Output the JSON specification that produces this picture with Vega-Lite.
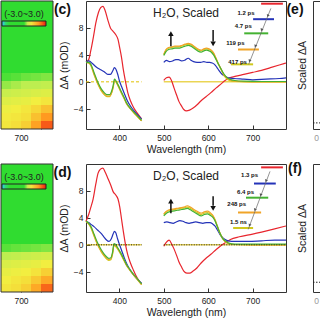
{
"$schema":"https://vega.github.io/schema/vega-lite/v6.json",
"padding":0,
"background":"white",
"config":{
 "font":"Liberation Sans",
 "text":{"font":"Liberation Sans"},
 "view":{"stroke":"#333","strokeWidth":1},
 "axis":{"grid":false,"domain":false,"tickColor":"#333","tickSize":-4,"tickWidth":1,"labelFontSize":8.5,"labelColor":"#222","labelPadding":7,"titleFontSize":10.5,"titleFontWeight":"normal","titleColor":"#222","titlePadding":4},
 "axisX":{"labelPadding":8,"titlePadding":3}
},
"datasets":{
 "hC":[
  {"x":650,"x2":780,"y":7,"y2":16,"c":0},
  {"x":650,"x2":675,"y":0,"y2":1,"c":1.0},{"x":675,"x2":700,"y":0,"y2":1,"c":1.1},{"x":700,"x2":725,"y":0,"y2":1,"c":1.3},{"x":725,"x2":750,"y":0,"y2":1,"c":1.9},{"x":750,"x2":780,"y":0,"y2":1,"c":2.5},
  {"x":650,"x2":675,"y":1,"y2":2,"c":0.95},{"x":675,"x2":700,"y":1,"y2":2,"c":1.0},{"x":700,"x2":725,"y":1,"y2":2,"c":1.1},{"x":725,"x2":750,"y":1,"y2":2,"c":1.5},{"x":750,"x2":780,"y":1,"y2":2,"c":2.0},
  {"x":650,"x2":675,"y":2,"y2":3,"c":0.85},{"x":675,"x2":700,"y":2,"y2":3,"c":0.9},{"x":700,"x2":725,"y":2,"y2":3,"c":1.0},{"x":725,"x2":750,"y":2,"y2":3,"c":1.2},{"x":750,"x2":780,"y":2,"y2":3,"c":1.5},
  {"x":650,"x2":675,"y":3,"y2":4,"c":0.7},{"x":675,"x2":700,"y":3,"y2":4,"c":0.75},{"x":700,"x2":725,"y":3,"y2":4,"c":0.8},{"x":725,"x2":750,"y":3,"y2":4,"c":0.9},{"x":750,"x2":780,"y":3,"y2":4,"c":1.0},
  {"x":650,"x2":675,"y":4,"y2":5,"c":0.5},{"x":675,"x2":700,"y":4,"y2":5,"c":0.55},{"x":700,"x2":725,"y":4,"y2":5,"c":0.6},{"x":725,"x2":750,"y":4,"y2":5,"c":0.65},{"x":750,"x2":780,"y":4,"y2":5,"c":0.7},
  {"x":650,"x2":675,"y":5,"y2":6,"c":0.3},{"x":675,"x2":700,"y":5,"y2":6,"c":0.35},{"x":700,"x2":725,"y":5,"y2":6,"c":0.4},{"x":725,"x2":750,"y":5,"y2":6,"c":0.4},{"x":750,"x2":780,"y":5,"y2":6,"c":0.45},
  {"x":650,"x2":675,"y":6,"y2":7,"c":0.12},{"x":675,"x2":700,"y":6,"y2":7,"c":0.15},{"x":700,"x2":725,"y":6,"y2":7,"c":0.2},{"x":725,"x2":750,"y":6,"y2":7,"c":0.22},{"x":750,"x2":780,"y":6,"y2":7,"c":0.25}
 ],
 "hD":[
  {"x":650,"x2":780,"y":6,"y2":16,"c":0},
  {"x":650,"x2":675,"y":0,"y2":1,"c":1.0},{"x":675,"x2":700,"y":0,"y2":1,"c":1.1},{"x":700,"x2":725,"y":0,"y2":1,"c":1.3},{"x":725,"x2":750,"y":0,"y2":1,"c":1.8},{"x":750,"x2":780,"y":0,"y2":1,"c":2.4},
  {"x":650,"x2":675,"y":1,"y2":2,"c":0.9},{"x":675,"x2":700,"y":1,"y2":2,"c":1.0},{"x":700,"x2":725,"y":1,"y2":2,"c":1.1},{"x":725,"x2":750,"y":1,"y2":2,"c":1.4},{"x":750,"x2":780,"y":1,"y2":2,"c":1.8},
  {"x":650,"x2":675,"y":2,"y2":3,"c":0.8},{"x":675,"x2":700,"y":2,"y2":3,"c":0.85},{"x":700,"x2":725,"y":2,"y2":3,"c":0.9},{"x":725,"x2":750,"y":2,"y2":3,"c":1.05},{"x":750,"x2":780,"y":2,"y2":3,"c":1.3},
  {"x":650,"x2":675,"y":3,"y2":4,"c":0.65},{"x":675,"x2":700,"y":3,"y2":4,"c":0.7},{"x":700,"x2":725,"y":3,"y2":4,"c":0.75},{"x":725,"x2":750,"y":3,"y2":4,"c":0.8},{"x":750,"x2":780,"y":3,"y2":4,"c":0.9},
  {"x":650,"x2":675,"y":4,"y2":5,"c":0.4},{"x":675,"x2":700,"y":4,"y2":5,"c":0.45},{"x":700,"x2":725,"y":4,"y2":5,"c":0.5},{"x":725,"x2":750,"y":4,"y2":5,"c":0.55},{"x":750,"x2":780,"y":4,"y2":5,"c":0.6},
  {"x":650,"x2":675,"y":5,"y2":6,"c":0.15},{"x":675,"x2":700,"y":5,"y2":6,"c":0.18},{"x":700,"x2":725,"y":5,"y2":6,"c":0.2},{"x":725,"x2":750,"y":5,"y2":6,"c":0.22},{"x":750,"x2":780,"y":5,"y2":6,"c":0.25}
 ],
 "lC":[{"t":"r","w":719,"w2":768,"v":11.6},{"t":"b","w":701,"w2":748,"v":9.3},{"t":"g","w":681,"w2":735,"v":7.2},{"t":"o","w":667,"w2":714,"v":4.8},{"t":"y","w":651,"w2":701,"v":2.6}],
 "lD":[{"t":"r","w":719,"w2":768,"v":11.5},{"t":"b","w":703,"w2":752,"v":9.1},{"t":"g","w":685,"w2":735,"v":7.0},{"t":"o","w":667,"w2":719,"v":4.8},{"t":"y","w":656,"w2":701,"v":2.5}],
 "tC":[{"lab":"1.2 ps","w":685,"v":10.2},{"lab":"4.7 ps","w":679,"v":8.3},{"lab":"119 ps","w":661,"v":5.7},{"lab":"417 ps","w":666,"v":3.0}],
 "tD":[{"lab":"1.3 ps","w":693,"v":10.3},{"lab":"6.4 ps","w":684,"v":7.9},{"lab":"248 ps","w":664,"v":6.1},{"lab":"1.5 ns","w":668,"v":3.4}],
 "sC":[
  {"t":"r","s":"u","w":325,"v":2.9},{"t":"r","s":"u","w":331,"v":3.3},{"t":"r","s":"u","w":336,"v":4.7},{"t":"r","s":"u","w":342,"v":6.8},{"t":"r","s":"u","w":347,"v":8.7},{"t":"r","s":"u","w":353,"v":10.3},{"t":"r","s":"u","w":358,"v":11.0},{"t":"r","s":"u","w":363,"v":11.2},{"t":"r","s":"u","w":368,"v":10.6},{"t":"r","s":"u","w":374,"v":9.2},{"t":"r","s":"u","w":380,"v":8.0},{"t":"r","s":"u","w":386,"v":7.5},{"t":"r","s":"u","w":392,"v":7.0},{"t":"r","s":"u","w":397,"v":6.3},{"t":"r","s":"u","w":401,"v":5.0},{"t":"r","s":"u","w":405,"v":3.6},{"t":"r","s":"u","w":409,"v":1.8},{"t":"r","s":"u","w":414,"v":0.0},{"t":"r","s":"u","w":419,"v":-1.6},{"t":"r","s":"u","w":425,"v":-2.8},{"t":"r","s":"u","w":432,"v":-3.8},{"t":"r","s":"u","w":440,"v":-4.6},{"t":"r","s":"u","w":450,"v":-5.5},
  {"t":"r","s":"v","w":500,"v":0.2},{"t":"r","s":"v","w":506,"v":0.6},{"t":"r","s":"v","w":512,"v":0.7},{"t":"r","s":"v","w":518,"v":0.1},{"t":"r","s":"v","w":523,"v":-0.9},{"t":"r","s":"v","w":529,"v":-2.0},{"t":"r","s":"v","w":534,"v":-2.9},{"t":"r","s":"v","w":540,"v":-3.6},{"t":"r","s":"v","w":545,"v":-4.1},{"t":"r","s":"v","w":551,"v":-4.3},{"t":"r","s":"v","w":558,"v":-4.2},{"t":"r","s":"v","w":566,"v":-3.9},{"t":"r","s":"v","w":575,"v":-3.4},{"t":"r","s":"v","w":584,"v":-2.8},{"t":"r","s":"v","w":595,"v":-2.2},{"t":"r","s":"v","w":606,"v":-1.6},{"t":"r","s":"v","w":618,"v":-0.9},{"t":"r","s":"v","w":629,"v":-0.3},{"t":"r","s":"v","w":638,"v":0.2},{"t":"r","s":"v","w":648,"v":0.6},{"t":"r","s":"v","w":660,"v":0.8},{"t":"r","s":"v","w":680,"v":1.1},{"t":"r","s":"v","w":700,"v":1.4},{"t":"r","s":"v","w":720,"v":1.7},{"t":"r","s":"v","w":740,"v":2.1},{"t":"r","s":"v","w":760,"v":2.5},{"t":"r","s":"v","w":775,"v":2.8},
  {"t":"b","s":"u","w":325,"v":2.9},{"t":"b","s":"u","w":331,"v":3.1},{"t":"b","s":"u","w":338,"v":2.8},{"t":"b","s":"u","w":348,"v":2.2},{"t":"b","s":"u","w":358,"v":1.8},{"t":"b","s":"u","w":366,"v":1.5},{"t":"b","s":"u","w":374,"v":1.1},{"t":"b","s":"u","w":380,"v":1.1},{"t":"b","s":"u","w":385,"v":1.6},{"t":"b","s":"u","w":389,"v":2.1},{"t":"b","s":"u","w":392,"v":1.9},{"t":"b","s":"u","w":396,"v":1.2},{"t":"b","s":"u","w":400,"v":0.2},{"t":"b","s":"u","w":405,"v":-0.7},{"t":"b","s":"u","w":411,"v":-1.7},{"t":"b","s":"u","w":418,"v":-2.8},{"t":"b","s":"u","w":426,"v":-3.7},{"t":"b","s":"u","w":434,"v":-4.4},{"t":"b","s":"u","w":442,"v":-5.0},{"t":"b","s":"u","w":450,"v":-5.5},
  {"t":"b","s":"v","w":500,"v":2.9},{"t":"b","s":"v","w":506,"v":3.2},{"t":"b","s":"v","w":513,"v":3.0},{"t":"b","s":"v","w":520,"v":3.1},{"t":"b","s":"v","w":527,"v":3.3},{"t":"b","s":"v","w":533,"v":3.3},{"t":"b","s":"v","w":540,"v":3.1},{"t":"b","s":"v","w":547,"v":3.2},{"t":"b","s":"v","w":555,"v":3.5},{"t":"b","s":"v","w":561,"v":3.2},{"t":"b","s":"v","w":567,"v":3.0},{"t":"b","s":"v","w":575,"v":2.9},{"t":"b","s":"v","w":583,"v":2.9},{"t":"b","s":"v","w":590,"v":3.0},{"t":"b","s":"v","w":597,"v":2.9},{"t":"b","s":"v","w":603,"v":2.9},{"t":"b","s":"v","w":609,"v":2.8},{"t":"b","s":"v","w":614,"v":2.6},{"t":"b","s":"v","w":619,"v":2.2},{"t":"b","s":"v","w":624,"v":1.7},{"t":"b","s":"v","w":630,"v":1.2},{"t":"b","s":"v","w":636,"v":0.9},{"t":"b","s":"v","w":645,"v":0.6},{"t":"b","s":"v","w":658,"v":0.5},{"t":"b","s":"v","w":680,"v":0.4},{"t":"b","s":"v","w":700,"v":0.3},{"t":"b","s":"v","w":730,"v":0.4},{"t":"b","s":"v","w":760,"v":0.5},{"t":"b","s":"v","w":775,"v":0.6},
  {"t":"y","s":"u","w":325,"v":2.9},{"t":"y","s":"u","w":331,"v":2.8},{"t":"y","s":"u","w":336,"v":2.4},{"t":"y","s":"u","w":343,"v":1.1},{"t":"y","s":"u","w":352,"v":-0.4},{"t":"y","s":"u","w":359,"v":-1.3},{"t":"y","s":"u","w":366,"v":-1.9},{"t":"y","s":"u","w":372,"v":-2.2},{"t":"y","s":"u","w":378,"v":-2.2},{"t":"y","s":"u","w":383,"v":-1.6},{"t":"y","s":"u","w":386,"v":-0.9},{"t":"y","s":"u","w":389,"v":0.1},{"t":"y","s":"u","w":392,"v":0.0},{"t":"y","s":"u","w":397,"v":-0.6},{"t":"y","s":"u","w":404,"v":-1.6},{"t":"y","s":"u","w":410,"v":-2.4},{"t":"y","s":"u","w":416,"v":-3.2},{"t":"y","s":"u","w":426,"v":-4.1},{"t":"y","s":"u","w":437,"v":-4.9},{"t":"y","s":"u","w":450,"v":-5.8},
  {"t":"y","s":"v","w":500,"v":4.0},{"t":"y","s":"v","w":505,"v":4.7},{"t":"y","s":"v","w":511,"v":5.0},{"t":"y","s":"v","w":518,"v":5.1},{"t":"y","s":"v","w":525,"v":5.2},{"t":"y","s":"v","w":533,"v":5.2},{"t":"y","s":"v","w":540,"v":5.3},{"t":"y","s":"v","w":548,"v":5.5},{"t":"y","s":"v","w":555,"v":5.6},{"t":"y","s":"v","w":561,"v":5.5},{"t":"y","s":"v","w":568,"v":5.2},{"t":"y","s":"v","w":576,"v":4.8},{"t":"y","s":"v","w":584,"v":4.6},{"t":"y","s":"v","w":590,"v":4.8},{"t":"y","s":"v","w":596,"v":4.9},{"t":"y","s":"v","w":602,"v":4.8},{"t":"y","s":"v","w":607,"v":4.6},{"t":"y","s":"v","w":612,"v":4.2},{"t":"y","s":"v","w":617,"v":3.5},{"t":"y","s":"v","w":623,"v":2.6},{"t":"y","s":"v","w":629,"v":1.8},{"t":"y","s":"v","w":635,"v":1.0},{"t":"y","s":"v","w":641,"v":0.5},{"t":"y","s":"v","w":648,"v":0.2},{"t":"y","s":"v","w":660,"v":0.05},{"t":"y","s":"v","w":700,"v":0.0},{"t":"y","s":"v","w":775,"v":0.0},
  {"t":"o","s":"u","w":325,"v":2.9},{"t":"o","s":"u","w":331,"v":2.8},{"t":"o","s":"u","w":336,"v":2.5},{"t":"o","s":"u","w":343,"v":1.2},{"t":"o","s":"u","w":352,"v":-0.3},{"t":"o","s":"u","w":359,"v":-1.2},{"t":"o","s":"u","w":366,"v":-1.8},{"t":"o","s":"u","w":372,"v":-2.1},{"t":"o","s":"u","w":378,"v":-2.1},{"t":"o","s":"u","w":383,"v":-1.5},{"t":"o","s":"u","w":386,"v":-0.8},{"t":"o","s":"u","w":389,"v":0.2},{"t":"o","s":"u","w":392,"v":0.1},{"t":"o","s":"u","w":397,"v":-0.5},{"t":"o","s":"u","w":404,"v":-1.5},{"t":"o","s":"u","w":410,"v":-2.3},{"t":"o","s":"u","w":416,"v":-3.2},{"t":"o","s":"u","w":426,"v":-4.1},{"t":"o","s":"u","w":437,"v":-4.9},{"t":"o","s":"u","w":450,"v":-5.8},
  {"t":"o","s":"v","w":500,"v":4.1},{"t":"o","s":"v","w":505,"v":4.8},{"t":"o","s":"v","w":511,"v":5.1},{"t":"o","s":"v","w":518,"v":5.2},{"t":"o","s":"v","w":525,"v":5.3},{"t":"o","s":"v","w":533,"v":5.3},{"t":"o","s":"v","w":540,"v":5.4},{"t":"o","s":"v","w":548,"v":5.6},{"t":"o","s":"v","w":555,"v":5.7},{"t":"o","s":"v","w":561,"v":5.6},{"t":"o","s":"v","w":568,"v":5.3},{"t":"o","s":"v","w":576,"v":4.9},{"t":"o","s":"v","w":584,"v":4.7},{"t":"o","s":"v","w":590,"v":4.9},{"t":"o","s":"v","w":596,"v":5.0},{"t":"o","s":"v","w":602,"v":4.9},{"t":"o","s":"v","w":607,"v":4.7},{"t":"o","s":"v","w":612,"v":4.3},{"t":"o","s":"v","w":617,"v":3.6},{"t":"o","s":"v","w":623,"v":2.7},{"t":"o","s":"v","w":629,"v":1.9},{"t":"o","s":"v","w":635,"v":1.1},{"t":"o","s":"v","w":641,"v":0.6},{"t":"o","s":"v","w":648,"v":0.3},{"t":"o","s":"v","w":660,"v":0.1},{"t":"o","s":"v","w":700,"v":0.0},{"t":"o","s":"v","w":775,"v":0.0},
  {"t":"g","s":"u","w":325,"v":2.9},{"t":"g","s":"u","w":331,"v":2.9},{"t":"g","s":"u","w":336,"v":2.6},{"t":"g","s":"u","w":343,"v":1.4},{"t":"g","s":"u","w":352,"v":-0.1},{"t":"g","s":"u","w":359,"v":-1.0},{"t":"g","s":"u","w":366,"v":-1.6},{"t":"g","s":"u","w":372,"v":-1.9},{"t":"g","s":"u","w":378,"v":-1.9},{"t":"g","s":"u","w":383,"v":-1.3},{"t":"g","s":"u","w":386,"v":-0.6},{"t":"g","s":"u","w":389,"v":0.4},{"t":"g","s":"u","w":392,"v":0.2},{"t":"g","s":"u","w":397,"v":-0.4},{"t":"g","s":"u","w":404,"v":-1.4},{"t":"g","s":"u","w":410,"v":-2.2},{"t":"g","s":"u","w":416,"v":-3.1},{"t":"g","s":"u","w":426,"v":-4.0},{"t":"g","s":"u","w":437,"v":-4.8},{"t":"g","s":"u","w":450,"v":-5.7},
  {"t":"g","s":"v","w":500,"v":3.9},{"t":"g","s":"v","w":505,"v":4.5},{"t":"g","s":"v","w":511,"v":4.8},{"t":"g","s":"v","w":518,"v":4.9},{"t":"g","s":"v","w":525,"v":5.0},{"t":"g","s":"v","w":533,"v":5.0},{"t":"g","s":"v","w":540,"v":5.1},{"t":"g","s":"v","w":548,"v":5.3},{"t":"g","s":"v","w":555,"v":5.4},{"t":"g","s":"v","w":561,"v":5.3},{"t":"g","s":"v","w":568,"v":5.0},{"t":"g","s":"v","w":576,"v":4.6},{"t":"g","s":"v","w":584,"v":4.4},{"t":"g","s":"v","w":590,"v":4.6},{"t":"g","s":"v","w":596,"v":4.7},{"t":"g","s":"v","w":602,"v":4.6},{"t":"g","s":"v","w":607,"v":4.4},{"t":"g","s":"v","w":612,"v":4.0},{"t":"g","s":"v","w":617,"v":3.4},{"t":"g","s":"v","w":623,"v":2.6},{"t":"g","s":"v","w":629,"v":1.9},{"t":"g","s":"v","w":635,"v":1.2},{"t":"g","s":"v","w":641,"v":0.7},{"t":"g","s":"v","w":648,"v":0.4},{"t":"g","s":"v","w":660,"v":0.2},{"t":"g","s":"v","w":680,"v":0.1},{"t":"g","s":"v","w":720,"v":0.05},{"t":"g","s":"v","w":775,"v":0.05}
 ],
 "sD":[
  {"t":"r","s":"u","w":325,"v":3.5},{"t":"r","s":"u","w":331,"v":4.5},{"t":"r","s":"u","w":336,"v":5.6},{"t":"r","s":"u","w":341,"v":6.8},{"t":"r","s":"u","w":347,"v":9.0},{"t":"r","s":"u","w":352,"v":10.6},{"t":"r","s":"u","w":357,"v":11.2},{"t":"r","s":"u","w":363,"v":11.4},{"t":"r","s":"u","w":368,"v":10.8},{"t":"r","s":"u","w":374,"v":9.9},{"t":"r","s":"u","w":381,"v":8.8},{"t":"r","s":"u","w":386,"v":7.9},{"t":"r","s":"u","w":392,"v":7.4},{"t":"r","s":"u","w":397,"v":6.8},{"t":"r","s":"u","w":401,"v":5.6},{"t":"r","s":"u","w":405,"v":3.8},{"t":"r","s":"u","w":409,"v":2.0},{"t":"r","s":"u","w":414,"v":0.0},{"t":"r","s":"u","w":419,"v":-1.5},{"t":"r","s":"u","w":425,"v":-2.7},{"t":"r","s":"u","w":432,"v":-3.8},{"t":"r","s":"u","w":440,"v":-4.9},{"t":"r","s":"u","w":450,"v":-5.8},
  {"t":"r","s":"v","w":500,"v":-0.2},{"t":"r","s":"v","w":506,"v":0.4},{"t":"r","s":"v","w":512,"v":0.7},{"t":"r","s":"v","w":518,"v":0.1},{"t":"r","s":"v","w":523,"v":-0.6},{"t":"r","s":"v","w":529,"v":-1.6},{"t":"r","s":"v","w":534,"v":-2.5},{"t":"r","s":"v","w":540,"v":-3.3},{"t":"r","s":"v","w":545,"v":-3.9},{"t":"r","s":"v","w":552,"v":-4.2},{"t":"r","s":"v","w":558,"v":-4.2},{"t":"r","s":"v","w":566,"v":-3.9},{"t":"r","s":"v","w":575,"v":-3.4},{"t":"r","s":"v","w":584,"v":-2.7},{"t":"r","s":"v","w":595,"v":-2.0},{"t":"r","s":"v","w":606,"v":-1.4},{"t":"r","s":"v","w":618,"v":-0.7},{"t":"r","s":"v","w":629,"v":-0.1},{"t":"r","s":"v","w":640,"v":0.4},{"t":"r","s":"v","w":650,"v":0.8},{"t":"r","s":"v","w":670,"v":1.2},{"t":"r","s":"v","w":700,"v":1.6},{"t":"r","s":"v","w":720,"v":1.9},{"t":"r","s":"v","w":745,"v":2.3},{"t":"r","s":"v","w":775,"v":2.8},
  {"t":"b","s":"u","w":325,"v":3.5},{"t":"b","s":"u","w":331,"v":3.3},{"t":"b","s":"u","w":337,"v":3.0},{"t":"b","s":"u","w":343,"v":2.7},{"t":"b","s":"u","w":351,"v":2.2},{"t":"b","s":"u","w":359,"v":1.7},{"t":"b","s":"u","w":365,"v":1.2},{"t":"b","s":"u","w":370,"v":0.8},{"t":"b","s":"u","w":377,"v":0.5},{"t":"b","s":"u","w":382,"v":0.9},{"t":"b","s":"u","w":386,"v":1.6},{"t":"b","s":"u","w":389,"v":2.0},{"t":"b","s":"u","w":392,"v":1.8},{"t":"b","s":"u","w":396,"v":0.9},{"t":"b","s":"u","w":400,"v":0.1},{"t":"b","s":"u","w":405,"v":-0.8},{"t":"b","s":"u","w":411,"v":-1.9},{"t":"b","s":"u","w":418,"v":-3.0},{"t":"b","s":"u","w":426,"v":-3.9},{"t":"b","s":"u","w":434,"v":-4.6},{"t":"b","s":"u","w":442,"v":-5.2},{"t":"b","s":"u","w":450,"v":-5.7},
  {"t":"b","s":"v","w":500,"v":3.3},{"t":"b","s":"v","w":507,"v":3.4},{"t":"b","s":"v","w":514,"v":3.3},{"t":"b","s":"v","w":521,"v":3.2},{"t":"b","s":"v","w":528,"v":3.4},{"t":"b","s":"v","w":536,"v":3.6},{"t":"b","s":"v","w":543,"v":3.5},{"t":"b","s":"v","w":550,"v":3.3},{"t":"b","s":"v","w":557,"v":3.2},{"t":"b","s":"v","w":564,"v":3.3},{"t":"b","s":"v","w":572,"v":3.4},{"t":"b","s":"v","w":580,"v":3.3},{"t":"b","s":"v","w":588,"v":3.2},{"t":"b","s":"v","w":596,"v":3.3},{"t":"b","s":"v","w":604,"v":3.3},{"t":"b","s":"v","w":610,"v":3.1},{"t":"b","s":"v","w":615,"v":2.8},{"t":"b","s":"v","w":620,"v":2.3},{"t":"b","s":"v","w":626,"v":1.6},{"t":"b","s":"v","w":632,"v":1.1},{"t":"b","s":"v","w":638,"v":0.8},{"t":"b","s":"v","w":645,"v":0.6},{"t":"b","s":"v","w":660,"v":0.5},{"t":"b","s":"v","w":690,"v":0.5},{"t":"b","s":"v","w":720,"v":0.6},{"t":"b","s":"v","w":750,"v":0.7},{"t":"b","s":"v","w":775,"v":0.7},
  {"t":"y","s":"u","w":325,"v":3.5},{"t":"y","s":"u","w":331,"v":3.1},{"t":"y","s":"u","w":337,"v":2.4},{"t":"y","s":"u","w":343,"v":1.3},{"t":"y","s":"u","w":351,"v":0.0},{"t":"y","s":"u","w":359,"v":-1.0},{"t":"y","s":"u","w":365,"v":-1.6},{"t":"y","s":"u","w":370,"v":-2.0},{"t":"y","s":"u","w":376,"v":-2.3},{"t":"y","s":"u","w":381,"v":-2.2},{"t":"y","s":"u","w":385,"v":-1.3},{"t":"y","s":"u","w":388,"v":-0.1},{"t":"y","s":"u","w":391,"v":-0.2},{"t":"y","s":"u","w":397,"v":-0.7},{"t":"y","s":"u","w":404,"v":-1.5},{"t":"y","s":"u","w":410,"v":-2.3},{"t":"y","s":"u","w":415,"v":-2.9},{"t":"y","s":"u","w":423,"v":-3.7},{"t":"y","s":"u","w":431,"v":-4.4},{"t":"y","s":"u","w":440,"v":-5.1},{"t":"y","s":"u","w":450,"v":-5.9},
  {"t":"y","s":"v","w":500,"v":4.5},{"t":"y","s":"v","w":506,"v":4.9},{"t":"y","s":"v","w":512,"v":5.1},{"t":"y","s":"v","w":520,"v":5.2},{"t":"y","s":"v","w":528,"v":5.3},{"t":"y","s":"v","w":536,"v":5.4},{"t":"y","s":"v","w":545,"v":5.5},{"t":"y","s":"v","w":553,"v":5.6},{"t":"y","s":"v","w":560,"v":5.4},{"t":"y","s":"v","w":567,"v":5.1},{"t":"y","s":"v","w":575,"v":4.8},{"t":"y","s":"v","w":584,"v":4.5},{"t":"y","s":"v","w":591,"v":4.7},{"t":"y","s":"v","w":598,"v":4.8},{"t":"y","s":"v","w":604,"v":4.6},{"t":"y","s":"v","w":610,"v":4.3},{"t":"y","s":"v","w":615,"v":3.7},{"t":"y","s":"v","w":620,"v":2.8},{"t":"y","s":"v","w":626,"v":1.8},{"t":"y","s":"v","w":632,"v":1.0},{"t":"y","s":"v","w":638,"v":0.5},{"t":"y","s":"v","w":645,"v":0.2},{"t":"y","s":"v","w":660,"v":0.05},{"t":"y","s":"v","w":700,"v":0.0},{"t":"y","s":"v","w":775,"v":0.0},
  {"t":"o","s":"u","w":325,"v":3.5},{"t":"o","s":"u","w":331,"v":3.1},{"t":"o","s":"u","w":337,"v":2.5},{"t":"o","s":"u","w":343,"v":1.4},{"t":"o","s":"u","w":351,"v":0.1},{"t":"o","s":"u","w":359,"v":-0.9},{"t":"o","s":"u","w":365,"v":-1.5},{"t":"o","s":"u","w":370,"v":-1.9},{"t":"o","s":"u","w":376,"v":-2.2},{"t":"o","s":"u","w":381,"v":-2.1},{"t":"o","s":"u","w":385,"v":-1.2},{"t":"o","s":"u","w":388,"v":0.0},{"t":"o","s":"u","w":391,"v":-0.1},{"t":"o","s":"u","w":397,"v":-0.6},{"t":"o","s":"u","w":404,"v":-1.4},{"t":"o","s":"u","w":410,"v":-2.2},{"t":"o","s":"u","w":415,"v":-2.9},{"t":"o","s":"u","w":423,"v":-3.7},{"t":"o","s":"u","w":431,"v":-4.4},{"t":"o","s":"u","w":440,"v":-5.1},{"t":"o","s":"u","w":450,"v":-5.9},
  {"t":"o","s":"v","w":500,"v":4.6},{"t":"o","s":"v","w":506,"v":5.0},{"t":"o","s":"v","w":512,"v":5.2},{"t":"o","s":"v","w":520,"v":5.3},{"t":"o","s":"v","w":528,"v":5.4},{"t":"o","s":"v","w":536,"v":5.5},{"t":"o","s":"v","w":545,"v":5.6},{"t":"o","s":"v","w":553,"v":5.8},{"t":"o","s":"v","w":560,"v":5.6},{"t":"o","s":"v","w":567,"v":5.3},{"t":"o","s":"v","w":575,"v":5.0},{"t":"o","s":"v","w":584,"v":4.7},{"t":"o","s":"v","w":591,"v":4.9},{"t":"o","s":"v","w":598,"v":5.0},{"t":"o","s":"v","w":604,"v":4.8},{"t":"o","s":"v","w":610,"v":4.4},{"t":"o","s":"v","w":615,"v":3.8},{"t":"o","s":"v","w":620,"v":2.9},{"t":"o","s":"v","w":626,"v":1.8},{"t":"o","s":"v","w":632,"v":1.0},{"t":"o","s":"v","w":638,"v":0.5},{"t":"o","s":"v","w":645,"v":0.2},{"t":"o","s":"v","w":660,"v":0.05},{"t":"o","s":"v","w":700,"v":0.0},{"t":"o","s":"v","w":775,"v":0.0},
  {"t":"g","s":"u","w":325,"v":3.5},{"t":"g","s":"u","w":331,"v":3.2},{"t":"g","s":"u","w":337,"v":2.6},{"t":"g","s":"u","w":343,"v":1.6},{"t":"g","s":"u","w":351,"v":0.3},{"t":"g","s":"u","w":359,"v":-0.7},{"t":"g","s":"u","w":365,"v":-1.3},{"t":"g","s":"u","w":370,"v":-1.7},{"t":"g","s":"u","w":376,"v":-2.0},{"t":"g","s":"u","w":381,"v":-1.9},{"t":"g","s":"u","w":385,"v":-1.0},{"t":"g","s":"u","w":388,"v":0.2},{"t":"g","s":"u","w":391,"v":0.1},{"t":"g","s":"u","w":397,"v":-0.5},{"t":"g","s":"u","w":404,"v":-1.3},{"t":"g","s":"u","w":410,"v":-2.1},{"t":"g","s":"u","w":415,"v":-2.8},{"t":"g","s":"u","w":423,"v":-3.6},{"t":"g","s":"u","w":431,"v":-4.3},{"t":"g","s":"u","w":440,"v":-5.0},{"t":"g","s":"u","w":450,"v":-5.8},
  {"t":"g","s":"v","w":500,"v":4.3},{"t":"g","s":"v","w":506,"v":4.7},{"t":"g","s":"v","w":512,"v":4.9},{"t":"g","s":"v","w":520,"v":5.0},{"t":"g","s":"v","w":528,"v":5.1},{"t":"g","s":"v","w":536,"v":5.2},{"t":"g","s":"v","w":545,"v":5.3},{"t":"g","s":"v","w":553,"v":5.4},{"t":"g","s":"v","w":560,"v":5.2},{"t":"g","s":"v","w":567,"v":4.9},{"t":"g","s":"v","w":575,"v":4.6},{"t":"g","s":"v","w":584,"v":4.3},{"t":"g","s":"v","w":591,"v":4.5},{"t":"g","s":"v","w":598,"v":4.6},{"t":"g","s":"v","w":604,"v":4.4},{"t":"g","s":"v","w":610,"v":4.1},{"t":"g","s":"v","w":615,"v":3.6},{"t":"g","s":"v","w":620,"v":2.8},{"t":"g","s":"v","w":626,"v":1.8},{"t":"g","s":"v","w":632,"v":1.0},{"t":"g","s":"v","w":638,"v":0.6},{"t":"g","s":"v","w":645,"v":0.3},{"t":"g","s":"v","w":660,"v":0.1},{"t":"g","s":"v","w":700,"v":0.1},{"t":"g","s":"v","w":775,"v":0.1}
 ]
},
"columns":3,
"bounds":"flush",
"spacing":{"row":35,"column":27},
"resolve":{"scale":{"color":"independent"},"legend":{"color":"independent"}},
"concat":[
 {"width":58,"height":128,"view":{"stroke":null},
  "encoding":{
   "x":{"field":"x","type":"quantitative","scale":{"domain":[650,795],"nice":false,"zero":false},"axis":{"values":[700,750],"title":null,"labelExpr":"datum.value == 700 ? '700' : ''"}},
   "x2":{"field":"x2"},
   "y":{"field":"y","type":"quantitative","scale":{"domain":[0,16],"nice":false,"zero":false},"axis":null},
   "y2":{"field":"y2"}
  },
  "layer":[
   {"data":{"name":"hC"},"mark":{"type":"rect"},
    "encoding":{"color":{"field":"c","type":"quantitative","scale":{"domain":[-3,-2.3,0.05,0.4,0.9,2.0,3],"range":["#30d0ff","#30dc30","#30dc30","#bdee50","#f2ee40","#ff9a20","#ee1a10"],"interpolate":"rgb"},
      "legend":{"title":"(-3.0~3.0)","orient":"none","legendX":1,"legendY":9,"direction":"horizontal","gradientLength":44,"gradientThickness":5,"labelExpr":"''","labelFontSize":1,"titleFontSize":9,"titleFontWeight":"normal","titleColor":"#222","titleAnchor":"middle","titlePadding":2,"gradientStrokeColor":"#222","gradientStrokeWidth":1,"padding":0}}}},
   {"data":{"values":[{"x":650,"x2":780,"y":0,"y2":16}]},"mark":{"type":"rect","fill":null,"filled":false,"stroke":"#333","strokeWidth":1}}
  ]},
 {"width":200,"height":128,
  "encoding":{
   "x":{"field":"w","type":"quantitative","scale":{"domain":[325,775],"nice":false,"zero":false},"axis":{"values":[400,500,600,700],"title":"Wavelength (nm)"}},
   "y":{"field":"v","type":"quantitative","scale":{"domain":[-7,12],"nice":false,"zero":false},"axis":{"values":[-4,0,4,8],"title":"ΔA (mOD)"}}
  },
  "layer":[
   {"data":{"values":[{"w":325,"w2":450,"v":0}]},"mark":{"type":"rule","color":"#e0c000","strokeWidth":1,"strokeDash":[3,2]},"encoding":{"x2":{"field":"w2"}}},
   {"data":{"values":[{"w":500,"w2":775,"v":0}]},"mark":{"type":"rule","color":"#e0c000","strokeWidth":1},"encoding":{"x2":{"field":"w2"}}},
   {"data":{"name":"sC"},"mark":{"type":"line","interpolate":"monotone","strokeWidth":1.2},
    "encoding":{"color":{"field":"t","type":"nominal","scale":{"domain":["r","b","g","o","y"],"range":["#e8262e","#2433b8","#44b232","#f0a428","#cfc81e"]},"legend":null},"detail":{"field":"s"}}},
   {"data":{"name":"lC"},"mark":{"type":"rule","strokeWidth":2},
    "encoding":{"x2":{"field":"w2"},"color":{"field":"t","type":"nominal","scale":{"domain":["r","b","g","o","y"],"range":["#e8262e","#2433b8","#44b232","#f0a428","#cfc81e"]},"legend":null}}},
   {"data":{"name":"tC"},"mark":{"type":"text","font":"Liberation Sans","fontSize":6,"fontWeight":"bold","color":"#111"},"encoding":{"text":{"field":"lab"}}},
   {"data":{"values":[{"w":741,"v":10.9,"w2":691,"v2":2.6}]},"mark":{"type":"rule","color":"#666","strokeWidth":0.7},"encoding":{"x2":{"field":"w2"},"y2":{"field":"v2"}}},
   {"data":{"values":[{"w":734,"v":9.8},{"w":720,"v":7.7},{"w":706,"v":5.3},{"w":693,"v":3.1}]},"mark":{"type":"point","shape":"triangle-down","filled":true,"size":10,"color":"#555","angle":22,"opacity":1},"encoding":{}},
   {"data":{"values":[{"w":516,"v":5.3,"v2":6.9},{"w":611,"v":6.0,"v2":7.7}]},"mark":{"type":"rule","color":"#111","strokeWidth":1.5},"encoding":{"y2":{"field":"v2"}}},
   {"data":{"values":[{"w":516,"v":7.15}]},"mark":{"type":"point","shape":"triangle-up","filled":true,"size":30,"color":"#111","opacity":1},"encoding":{}},
   {"data":{"values":[{"w":611,"v":5.65}]},"mark":{"type":"point","shape":"triangle-down","filled":true,"size":30,"color":"#111","opacity":1},"encoding":{}},
   {"data":{"values":[{"w":550,"v":10.2,"lab":"H₂O, Scaled"}]},"mark":{"type":"text","font":"Liberation Sans","fontSize":12,"color":"#222"},"encoding":{"text":{"field":"lab"}}},
   {"data":{"values":[{"w":272,"v":10.7,"lab":"(c)"}]},"mark":{"type":"text","font":"Liberation Sans","fontSize":14,"fontWeight":"bold","color":"#111"},"encoding":{"text":{"field":"lab"}}}
  ]},
 {"width":8,"height":128,
  "encoding":{
   "x":{"field":"w","type":"quantitative","scale":{"domain":[-3,5],"nice":false,"zero":false},"axis":{"values":[0],"title":null,"ticks":false,"labelColor":"#999","labelPadding":4}},
   "y":{"field":"v","type":"quantitative","scale":{"domain":[-0.05,1],"nice":false,"zero":false},"axis":{"title":"Scaled ΔA","labels":false,"ticks":false,"titlePadding":6}}
  },
  "layer":[
   {"data":{"values":[{"w":-3,"w2":5,"v":0}]},"mark":{"type":"rule","color":"#222","strokeDash":[1.5,1.5]},"encoding":{"x2":{"field":"w2"}}},
   {"data":{"values":[{"w":-21,"v":0.93,"lab":"(e)"}]},"mark":{"type":"text","font":"Liberation Sans","fontSize":14,"fontWeight":"bold","color":"#111"},"encoding":{"text":{"field":"lab"}}}
  ]},
 {"width":58,"height":128,"view":{"stroke":null},
  "encoding":{
   "x":{"field":"x","type":"quantitative","scale":{"domain":[650,795],"nice":false,"zero":false},"axis":{"values":[700,750],"title":null,"labelExpr":"datum.value == 700 ? '700' : ''"}},
   "x2":{"field":"x2"},
   "y":{"field":"y","type":"quantitative","scale":{"domain":[0,16],"nice":false,"zero":false},"axis":null},
   "y2":{"field":"y2"}
  },
  "layer":[
   {"data":{"name":"hD"},"mark":{"type":"rect"},
    "encoding":{"color":{"field":"c","type":"quantitative","scale":{"domain":[-3,-2.3,0.05,0.4,0.9,2.0,3],"range":["#30d0ff","#30dc30","#30dc30","#bdee50","#f2ee40","#ff9a20","#ee1a10"],"interpolate":"rgb"},
      "legend":{"title":"(-3.0~3.0)","orient":"none","legendX":1,"legendY":9,"direction":"horizontal","gradientLength":44,"gradientThickness":5,"labelExpr":"''","labelFontSize":1,"titleFontSize":9,"titleFontWeight":"normal","titleColor":"#222","titleAnchor":"middle","titlePadding":2,"gradientStrokeColor":"#222","gradientStrokeWidth":1,"padding":0}}}},
   {"data":{"values":[{"x":650,"x2":780,"y":0,"y2":16}]},"mark":{"type":"rect","fill":null,"filled":false,"stroke":"#333","strokeWidth":1}}
  ]},
 {"width":200,"height":128,
  "encoding":{
   "x":{"field":"w","type":"quantitative","scale":{"domain":[325,775],"nice":false,"zero":false},"axis":{"values":[400,500,600,700],"title":"Wavelength (nm)"}},
   "y":{"field":"v","type":"quantitative","scale":{"domain":[-7,12],"nice":false,"zero":false},"axis":{"values":[-4,0,4,8],"title":"ΔA (mOD)"}}
  },
  "layer":[
   {"data":{"values":[{"w":325,"w2":450,"v":0},{"w":500,"w2":775,"v":0}]},"mark":{"type":"rule","color":"#e0c000","strokeWidth":1},"encoding":{"x2":{"field":"w2"}}},
   {"data":{"name":"sD"},"mark":{"type":"line","interpolate":"monotone","strokeWidth":1.2},
    "encoding":{"color":{"field":"t","type":"nominal","scale":{"domain":["r","b","g","o","y"],"range":["#e8262e","#2433b8","#44b232","#f0a428","#cfc81e"]},"legend":null},"detail":{"field":"s"}}},
   {"data":{"values":[{"w":325,"w2":450,"v":0},{"w":500,"w2":775,"v":0}]},"mark":{"type":"rule","color":"#222","strokeWidth":1,"strokeDash":[1,1.5]},"encoding":{"x2":{"field":"w2"}}},
   {"data":{"name":"lD"},"mark":{"type":"rule","strokeWidth":2},
    "encoding":{"x2":{"field":"w2"},"color":{"field":"t","type":"nominal","scale":{"domain":["r","b","g","o","y"],"range":["#e8262e","#2433b8","#44b232","#f0a428","#cfc81e"]},"legend":null}}},
   {"data":{"name":"tD"},"mark":{"type":"text","font":"Liberation Sans","fontSize":6,"fontWeight":"bold","color":"#111"},"encoding":{"text":{"field":"lab"}}},
   {"data":{"values":[{"w":739,"v":10.9,"w2":690,"v2":2.3}]},"mark":{"type":"rule","color":"#666","strokeWidth":0.7},"encoding":{"x2":{"field":"w2"},"y2":{"field":"v2"}}},
   {"data":{"values":[{"w":730,"v":9.5},{"w":718,"v":7.4},{"w":705,"v":5.2},{"w":693,"v":2.9}]},"mark":{"type":"point","shape":"triangle-down","filled":true,"size":10,"color":"#555","angle":22,"opacity":1},"encoding":{}},
   {"data":{"values":[{"w":516,"v":4.7,"v2":6.2},{"w":611,"v":5.8,"v2":7.2}]},"mark":{"type":"rule","color":"#111","strokeWidth":1.5},"encoding":{"y2":{"field":"v2"}}},
   {"data":{"values":[{"w":516,"v":6.5}]},"mark":{"type":"point","shape":"triangle-up","filled":true,"size":30,"color":"#111","opacity":1},"encoding":{}},
   {"data":{"values":[{"w":611,"v":5.4}]},"mark":{"type":"point","shape":"triangle-down","filled":true,"size":30,"color":"#111","opacity":1},"encoding":{}},
   {"data":{"values":[{"w":550,"v":10.2,"lab":"D₂O, Scaled"}]},"mark":{"type":"text","font":"Liberation Sans","fontSize":12,"color":"#222"},"encoding":{"text":{"field":"lab"}}},
   {"data":{"values":[{"w":272,"v":10.7,"lab":"(d)"}]},"mark":{"type":"text","font":"Liberation Sans","fontSize":14,"fontWeight":"bold","color":"#111"},"encoding":{"text":{"field":"lab"}}}
  ]},
 {"width":8,"height":128,
  "encoding":{
   "x":{"field":"w","type":"quantitative","scale":{"domain":[-3,5],"nice":false,"zero":false},"axis":{"values":[0],"title":null,"ticks":false,"labelColor":"#999","labelPadding":4}},
   "y":{"field":"v","type":"quantitative","scale":{"domain":[-0.05,1],"nice":false,"zero":false},"axis":{"title":"Scaled ΔA","labels":false,"ticks":false,"titlePadding":6}}
  },
  "layer":[
   {"data":{"values":[{"w":-3,"w2":5,"v":0.03}]},"mark":{"type":"rule","color":"#222","strokeDash":[1.5,1.5]},"encoding":{"x2":{"field":"w2"}}},
   {"data":{"values":[{"w":-21,"v":0.96,"lab":"(f)"}]},"mark":{"type":"text","font":"Liberation Sans","fontSize":14,"fontWeight":"bold","color":"#111"},"encoding":{"text":{"field":"lab"}}}
  ]}
]
}
